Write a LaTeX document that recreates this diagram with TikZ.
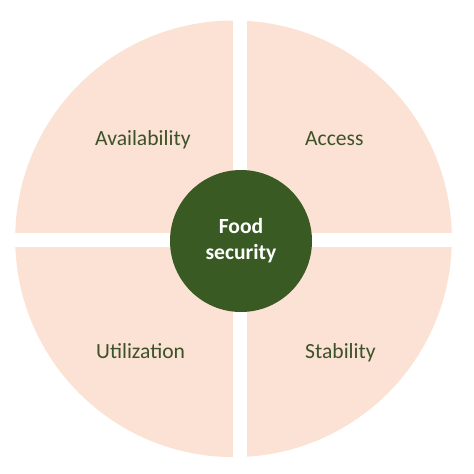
\documentclass[tikz,border=0pt]{standalone}
\usepackage{fontspec}
\setmainfont{Carlito}
\usetikzlibrary{positioning}
\definecolor{peach}{RGB}{251,226,213}
\definecolor{darkgreen}{RGB}{58,90,36}
\definecolor{labelgreen}{RGB}{60,82,40}

\begin{document}
\begin{tikzpicture}[x=1pt, y=-1pt,
        pillar/.style = {font=\fontsize{21.6}{26}\selectfont, text=labelgreen, inner sep=0pt, anchor=base west},
        core/.style   = {circle, fill=darkgreen, minimum size=142pt, inner sep=0pt, text=white, align=center,
                         font=\fontsize{21.6}{26}\selectfont\bfseries}]

    \useasboundingbox (0,0) rectangle (474,474);

    % the big disc, cut in four by a white cross
    \fill[peach] (233.5,238.8) circle (218.3pt);
    \fill[white] (233.3,0) rectangle (247,474);
    \fill[white] (0,233.3) rectangle (474,246.8);

    % centre
    \node[core] (food) at (241,241) {Food\\security};

    % the four pillars
    \node[pillar] (avail) at (95,145.7)  {Availability};
    \node[pillar] (access) at (305,145.7) {Access};
    \node[pillar] (util) at (96,358)     {Utilization};
    \node[pillar] (stab) at (305,358.5)  {Stability};

\end{tikzpicture}
\end{document}
